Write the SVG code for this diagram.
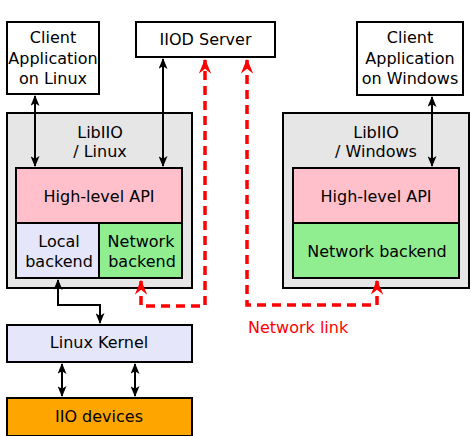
<svg xmlns="http://www.w3.org/2000/svg" width="474" height="436" viewBox="0 0 474 436">
<style>
text{font-family:"DejaVu Sans","Liberation Sans",sans-serif;font-size:16px;fill:#000;text-anchor:middle}
.box{stroke:#000;stroke-width:2}
.white{fill:#fff}
.grey{fill:#e6e6e6}
.pink{fill:#ffc0cb}
.lav{fill:#e6e6fa}
.green{fill:#90ee90}
.orange{fill:#ffa500}
.conn{fill:none;stroke:#000;stroke-width:2}
.net{fill:none;stroke:#f00;stroke-width:3.5;stroke-dasharray:9,6}
</style>
<defs>
<marker id="ah" viewBox="0 0 12 10" refX="11" refY="5" markerWidth="11" markerHeight="9" markerUnits="userSpaceOnUse" orient="auto-start-reverse">
<path d="M0,0 L12,5 L0,10 L3,5 z" fill="#000"/>
</marker>
<marker id="rh" viewBox="0 0 12 10" refX="11" refY="5" markerWidth="15" markerHeight="13" markerUnits="userSpaceOnUse" orient="auto-start-reverse">
<path d="M0,0 L12,5 L0,10 L4,5 z" fill="#f00"/>
</marker>
</defs>
<rect width="474" height="436" fill="#fff"/>
<g id="client-linux">
<rect class="box white" x="7" y="22" width="92" height="72"/>
<text x="53" y="43">Client</text>
<text x="53" y="64">Application</text>
<text x="53" y="84">on Linux</text>
</g>
<g id="iiod-server">
<rect class="box white" x="136" y="22" width="139" height="35"/>
<text x="205.5" y="45">IIOD Server</text>
</g>
<g id="client-windows">
<rect class="box white" x="357" y="22" width="106" height="73"/>
<text x="410" y="43">Client</text>
<text x="410" y="64">Application</text>
<text x="410" y="84">on Windows</text>
</g>
<g id="libiio-linux">
<rect class="box grey" x="7" y="113" width="185" height="175"/>
<text x="100" y="138">LibIIO</text>
<text x="100" y="157">/ Linux</text>
</g>
<g id="api-linux">
<rect class="box pink" x="16" y="168" width="166" height="55"/>
<text x="99" y="202">High-level API</text>
</g>
<g id="local-backend">
<rect class="box lav" x="16" y="223" width="83" height="55"/>
<text x="59" y="247">Local</text>
<text x="59" y="267">backend</text>
</g>
<g id="net-backend-linux">
<rect class="box green" x="99" y="223" width="83" height="55"/>
<text x="141" y="247">Network</text>
<text x="142" y="267">backend</text>
</g>
<g id="libiio-windows">
<rect class="box grey" x="283" y="113" width="186" height="175"/>
<text x="376" y="138">LibIIO</text>
<text x="376" y="157">/ Windows</text>
</g>
<g id="api-windows">
<rect class="box pink" x="293" y="168" width="166" height="55"/>
<text x="376" y="202">High-level API</text>
</g>
<g id="net-backend-windows">
<rect class="box green" x="293" y="223" width="166" height="55"/>
<text x="377" y="257">Network backend</text>
</g>
<g id="linux-kernel">
<rect class="box lav" x="7" y="325" width="185" height="37"/>
<text x="99" y="348">Linux Kernel</text>
</g>
<g id="iio-devices">
<rect class="box orange" x="7" y="398" width="185" height="38"/>
<text x="99" y="422">IIO devices</text>
</g>
<g id="connectors">
<path class="conn" d="M35,96 L35,166" marker-start="url(#ah)" marker-end="url(#ah)"/>
<path class="conn" d="M163,59 L163,166" marker-start="url(#ah)" marker-end="url(#ah)"/>
<path class="conn" d="M432,97 L432,166" marker-start="url(#ah)" marker-end="url(#ah)"/>
<path class="conn" d="M58,280 L58,305 L100,305 L100,323" marker-start="url(#ah)" marker-end="url(#ah)"/>
<path class="conn" d="M62,364 L62,396" marker-start="url(#ah)" marker-end="url(#ah)"/>
<path class="conn" d="M135,364 L135,396" marker-start="url(#ah)" marker-end="url(#ah)"/>
<path class="net" d="M141,281 L141,306 L205,306 L205,60" marker-start="url(#rh)" marker-end="url(#rh)"/>
<path class="net" d="M377,281 L377,305 L247,305 L247,60" marker-start="url(#rh)" marker-end="url(#rh)"/>
</g>
<text x="248" y="333" style="text-anchor:start;fill:#f00">Network link</text>
</svg>
